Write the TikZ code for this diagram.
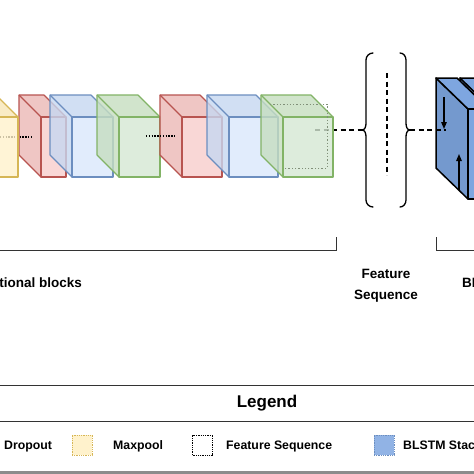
\documentclass[tikz,border=0pt]{standalone}
\usepackage{xcolor}
\usepackage{tikz}
\usepackage{fontspec}
\setmainfont{Liberation Sans}
\usetikzlibrary{arrows.meta, positioning, calc}
\definecolor{red25}{HTML}{F8CECC}
\definecolor{redline}{HTML}{B85450}
\definecolor{blue25}{HTML}{DAE8FC}
\definecolor{blueline}{HTML}{6C8EBF}
\definecolor{green25}{HTML}{D5E8D4}
\definecolor{greenline}{HTML}{82B366}
\definecolor{yellow25}{HTML}{FFF2CC}
\definecolor{yellowline}{HTML}{D6B656}
\definecolor{blstm25}{HTML}{7EA6E0}

% one conv cube: front face from #1 to #2, fill #3, line #4
\newcommand{\convcube}[4]{%
  \filldraw[draw=#4, fill=#3!82!#4, fill opacity=0.8, line width=1.2pt, line join=round]
    ({#1-22},95) -- ({#2-22},95) -- (#2,117) -- (#1,117) -- (#1,177) -- ({#1-22},155) -- cycle;
  \draw[draw=#4, line width=1.2pt] ({#1-22},95) -- (#1,117);
  \filldraw[draw=#4, fill=#3, fill opacity=0.8, line width=1.2pt, line join=round]
    (#1,117) rectangle (#2,177);
}
% one BLSTM slab, shifted by #1
\newcommand{\blstmslab}[1]{%
  \filldraw[fill=blstm25!92!black, line width=1.5pt, line join=round]
    ({436+#1},78) -- ({468+#1},109) -- ({468+#1},199) -- ({436+#1},168) -- cycle;
  \filldraw[fill=blstm25, line width=1.5pt, line join=round]
    ({436+#1},78) -- ({457+#1},78) -- ({489+#1},109) -- ({468+#1},109) -- cycle;
  \filldraw[fill=blstm25, line width=1.5pt, line join=round]
    ({468+#1},109) rectangle ({489+#1},199);
}

\begin{document}
\begin{tikzpicture}[
    x=1pt, y=-1pt,
    label_big/.style={
      font=\fontsize{13.5}{21}\selectfont\bfseries,
      inner sep=0,
      align=center
    },
    legend_text/.style={
      font=\fontsize{12.3}{14}\selectfont\bfseries,
      anchor=base west,
      inner sep=0
    },
    swatch/.style={
      rectangle,
      line width=0.8pt,
      dash pattern=on 0.9pt off 0.9pt,
      minimum size=20pt,
      inner sep=0
    },
    seq_line/.style={line width=1.3pt, dash pattern=on 5pt off 3.5pt},
    dot_line/.style={line width=1.5pt, dash pattern=on 1.4pt off 1.4pt},
    brace_line/.style={line width=1.3pt, line cap=round},
    flow_arrow/.style={-{Triangle[length=7pt,width=5.5pt]}, line width=1.3pt},
    rule_line/.style={line width=1pt, draw=black!80}
  ]
  \useasboundingbox (0,0) rectangle (474,474);
  \clip (0,0) rectangle (474,474);
  \fill[white] (0,0) rectangle (474,474);

  % Points
  \coordinate (drop_in) at (0,137);
  \coordinate (drop_out) at (33,137);
  \coordinate (pool_in) at (146,136);
  \coordinate (pool_out) at (176,136);
  \coordinate (conv_out) at (315,130);
  \coordinate (seq_left) at (362,130);
  \coordinate (seq_right) at (410,130);
  \coordinate (blstm_in) at (446,130);
  \coordinate (fw_top) at (444,97);
  \coordinate (fw_bot) at (444,129);
  \coordinate (bw_bot) at (459,190);
  \coordinate (bw_top) at (459,154);

  % Conv blocks
  \convcube{41}{66}{red25}{redline}
  \draw[dot_line] (drop_in) -- (drop_out);
  \convcube{-8}{18}{yellow25}{yellowline}
  \convcube{72}{113}{blue25}{blueline}
  \convcube{119}{160}{green25}{greenline}
  \convcube{182}{222}{red25}{redline}
  \draw[dot_line] (pool_in) -- (pool_out);
  \convcube{229}{278}{blue25}{blueline}
  \draw[seq_line] (conv_out) -- (seq_left);
  \convcube{283}{333}{green25}{greenline}
  \draw[line width=1pt, dash pattern=on 1.3pt off 2pt, draw=gray!70!greenline]
    (270,104) -- (327,104) -- (327,168) -- (283,168);

  % Feature sequence
  \draw[brace_line] (373,53) to[out=180,in=90] (366,60) -- (366,123)
    to[out=-90,in=0] (seq_left) to[out=0,in=90] (366,137) -- (366,200)
    to[out=-90,in=180] (373,207);
  \draw[brace_line] (400,53) to[out=0,in=90] (406,60) -- (406,123)
    to[out=-90,in=180] (seq_right) to[out=180,in=90] (406,137) -- (406,200)
    to[out=-90,in=0] (400,207);
  \draw[seq_line] (387,73) -- (387,175);

  % BLSTM stack
  \blstmslab{24}
  \blstmslab{0}
  \draw[flow_arrow] (fw_top) -- (fw_bot);
  \draw[flow_arrow] (bw_bot) -- (bw_top);
  \draw[seq_line] (seq_right) -- (blstm_in);

  % Brackets and labels
  \draw[rule_line] (0,250) -- (336,250) -- (336,237);
  \draw[rule_line] (436,237) -- (436,250) -- (474,250);
  \node [label_big, anchor=base east] (conv_label) at (82,287) {Convolutional blocks};
  \node [label_big] (seq_label) at (386,286) {Feature\\Sequence};
  \node [label_big, anchor=base west] (blstm_label) at (462,287) {BLSTM Stack};

  % Legend
  \draw[rule_line] (0,385) -- (474,385);
  \draw[rule_line] (0,421) -- (474,421);
  \draw[line width=3pt, draw=black!45] (0,472) -- (474,472);
  \node [font=\fontsize{17}{20}\selectfont\bfseries, inner sep=0] (legend_title) at (267,403) {Legend};
  \node [legend_text] (dropout_text) at (4,449) {Dropout};
  \node [swatch, draw=yellowline, fill=yellow25] (maxpool_box) at (82,445) {};
  \node [legend_text] (maxpool_text) at (113,449) {Maxpool};
  \node [swatch, draw=black, fill=white] (seq_box) at (202.5,445) {};
  \node [legend_text] (seq_text) at (226,449) {Feature Sequence};
  \node [swatch, draw=blueline, fill=blstm25!85!white] (blstm_box) at (384,445) {};
  \node [legend_text] (blstm_text) at (403,449) {BLSTM Stack};

\end{tikzpicture}
\end{document}
